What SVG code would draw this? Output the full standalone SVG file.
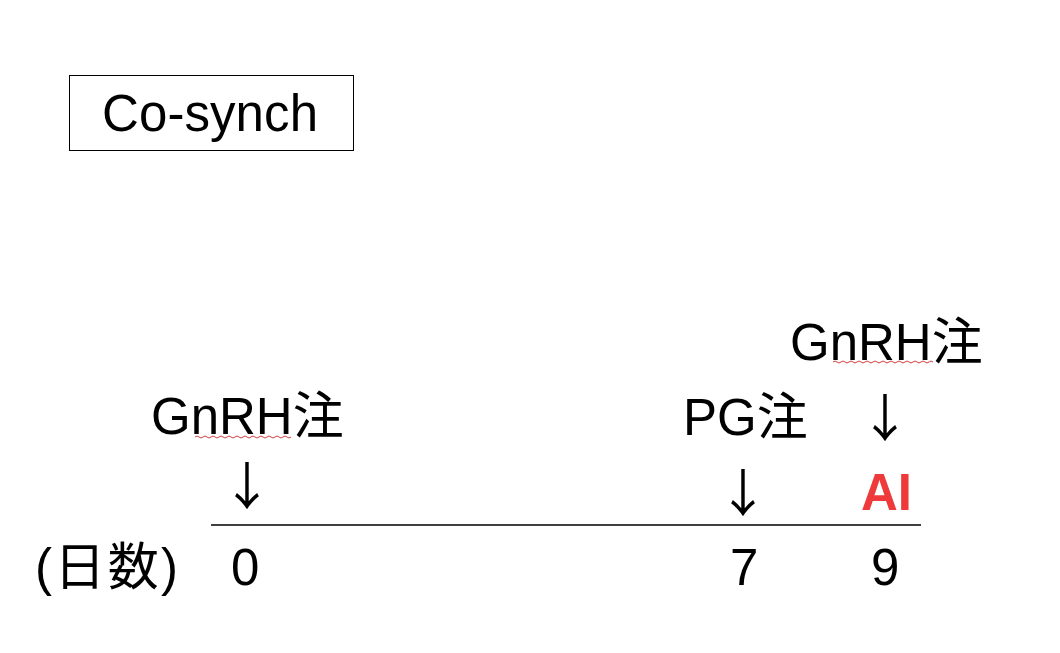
<svg xmlns="http://www.w3.org/2000/svg" width="1060" height="653" viewBox="0 0 1060 653">
<style>
.t{font-family:"Liberation Sans","Noto Sans CJK JP",sans-serif;font-size:51px;fill:#000}
.ar{font-family:"Noto Sans CJK JP",sans-serif;font-size:51px;fill:#000;text-anchor:middle}
.ai{font-family:"Liberation Sans",sans-serif;font-size:51px;font-weight:bold;fill:#ee3a3a}
.sq{fill:none;stroke:#d04040;stroke-width:1}
</style>
<rect width="1060" height="653" fill="#fff"/>
<g id="title">
<rect x="69.5" y="75.5" width="284" height="75" fill="#fff" stroke="#000" stroke-width="1"/>
<text class="t" x="102" y="131" textLength="216">Co-synch</text>
</g>
<g id="connectors">
<line x1="211" y1="525" x2="921" y2="525" stroke="#000" stroke-width="1.3"/>
</g>
<g id="day0">
<text class="t" x="151" y="434">GnRH注</text>
<path class="sq" d="M195 437 q2 -2 4 0 t4 0 t4 0 t4 0 t4 0 t4 0 t4 0 t4 0 t4 0 t4 0 t4 0 t4 0 t4 0 t4 0 t4 0 t4 0 t4 0 t4 0 t4 0 t4 0 t4 0 t4 0 t4 0 t4 0"/>
<text class="ar" x="247" y="505">↓</text>
</g>
<g id="day7">
<text class="t" x="683" y="435">PG注</text>
<text class="ar" x="743" y="512">↓</text>
</g>
<g id="day9">
<text class="t" x="790" y="360">GnRH注</text>
<path class="sq" d="M833 362 q2 -2 4 0 t4 0 t4 0 t4 0 t4 0 t4 0 t4 0 t4 0 t4 0 t4 0 t4 0 t4 0 t4 0 t4 0 t4 0 t4 0 t4 0 t4 0 t4 0 t4 0 t4 0 t4 0 t4 0 t4 0 t4 0"/>
<text class="ar" x="885" y="437">↓</text>
<text class="ai" x="861" y="510">AI</text>
</g>
<g id="axis">
<text class="t" x="35" y="585" textLength="143">(日数)</text>
<text class="t" x="231" y="585">0</text>
<text class="t" x="730" y="585">7</text>
<text class="t" x="871" y="585">9</text>
</g>
</svg>
